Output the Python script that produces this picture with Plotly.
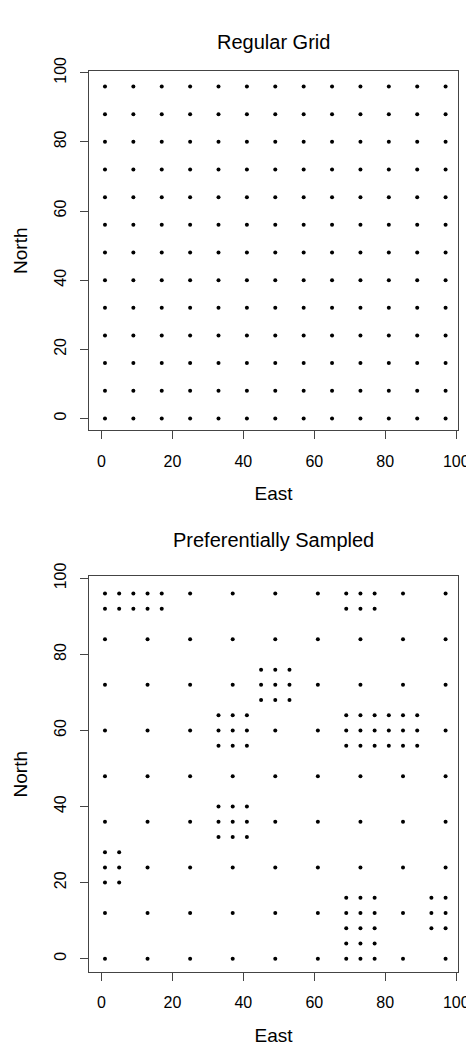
import plotly.graph_objects as go
from plotly.subplots import make_subplots

# Regular grid coordinates
grid_east = [1, 9, 17, 25, 33, 41, 49, 57, 65, 73, 81, 89, 97]
grid_north = [0, 8, 16, 24, 32, 40, 48, 56, 64, 72, 80, 88, 96]

# Preferentially sampled: east positions per north row
pref_rows = {
    96: [1, 5, 9, 13, 17, 25, 37, 49, 61, 69, 73, 77, 85, 97],
    92: [1, 5, 9, 13, 17, 69, 73, 77],
    84: [1, 13, 25, 37, 49, 61, 73, 85, 97],
    76: [45, 49, 53],
    72: [1, 13, 25, 37, 45, 49, 53, 61, 73, 85, 97],
    68: [45, 49, 53],
    64: [33, 37, 41, 69, 73, 77, 81, 85, 89],
    60: [1, 13, 25, 33, 37, 41, 49, 61, 69, 73, 77, 81, 85, 89, 97],
    56: [33, 37, 41, 69, 73, 77, 81, 85, 89],
    48: [1, 13, 25, 37, 49, 61, 73, 85, 97],
    40: [33, 37, 41],
    36: [1, 13, 25, 33, 37, 41, 49, 61, 73, 85, 97],
    32: [33, 37, 41],
    28: [1, 5],
    24: [1, 5, 13, 25, 37, 49, 61, 73, 85, 97],
    20: [1, 5],
    16: [69, 73, 77, 93, 97],
    12: [1, 13, 25, 37, 49, 61, 69, 73, 77, 85, 93, 97],
    8: [69, 73, 77, 93, 97],
    4: [69, 73, 77],
    0: [1, 13, 25, 37, 49, 61, 69, 73, 77, 85, 97],
}

tick_vals = [0, 20, 40, 60, 80, 100]

gx = [e for n in grid_north for e in grid_east]
gy = [n for n in grid_north for e in grid_east]
px = [e for n, row in pref_rows.items() for e in row]
py = [n for n, row in pref_rows.items() for e in row]

fig = make_subplots(rows=2, cols=1)
mk = dict(size=4, color="black")
fig.add_trace(go.Scatter(x=gx, y=gy, mode="markers", marker=mk), row=1, col=1)
fig.add_trace(go.Scatter(x=px, y=py, mode="markers", marker=mk), row=2, col=1)

font = dict(family="Liberation Sans, Arial", size=16, color="black")
fig.update_layout(
    width=474, height=1047, showlegend=False,
    plot_bgcolor="white", paper_bgcolor="white", font=font,
    margin=dict(l=80, r=16, t=63, b=57),
)
fig.update_yaxes(domain=[0.601, 1.0], row=1, col=1)
fig.update_yaxes(domain=[0.0, 0.439], row=2, col=1)
axis_style = dict(
    range=[-3.5, 100.5], tickvals=tick_vals, ticks="outside", ticklen=8,
    showgrid=False, zeroline=False, showline=True, linecolor="#444",
    linewidth=1, mirror=True, tickcolor="#444", ticklabelstandoff=8,
)
fig.update_xaxes(**axis_style, title_text="East", title_standoff=18)
fig.update_yaxes(**axis_style, tickangle=-90, title_text="North", title_standoff=18)

fig.add_annotation(text="Regular Grid", x=0.5, y=1.0, xref="paper", yref="paper",
                   yshift=42, showarrow=False, font=dict(size=20, family=font["family"]))
fig.add_annotation(text="Preferentially Sampled", x=0.5, y=0.439, xref="paper", yref="paper",
                   yshift=36, showarrow=False, font=dict(size=20, family=font["family"]))

fig.write_html("out.html")
